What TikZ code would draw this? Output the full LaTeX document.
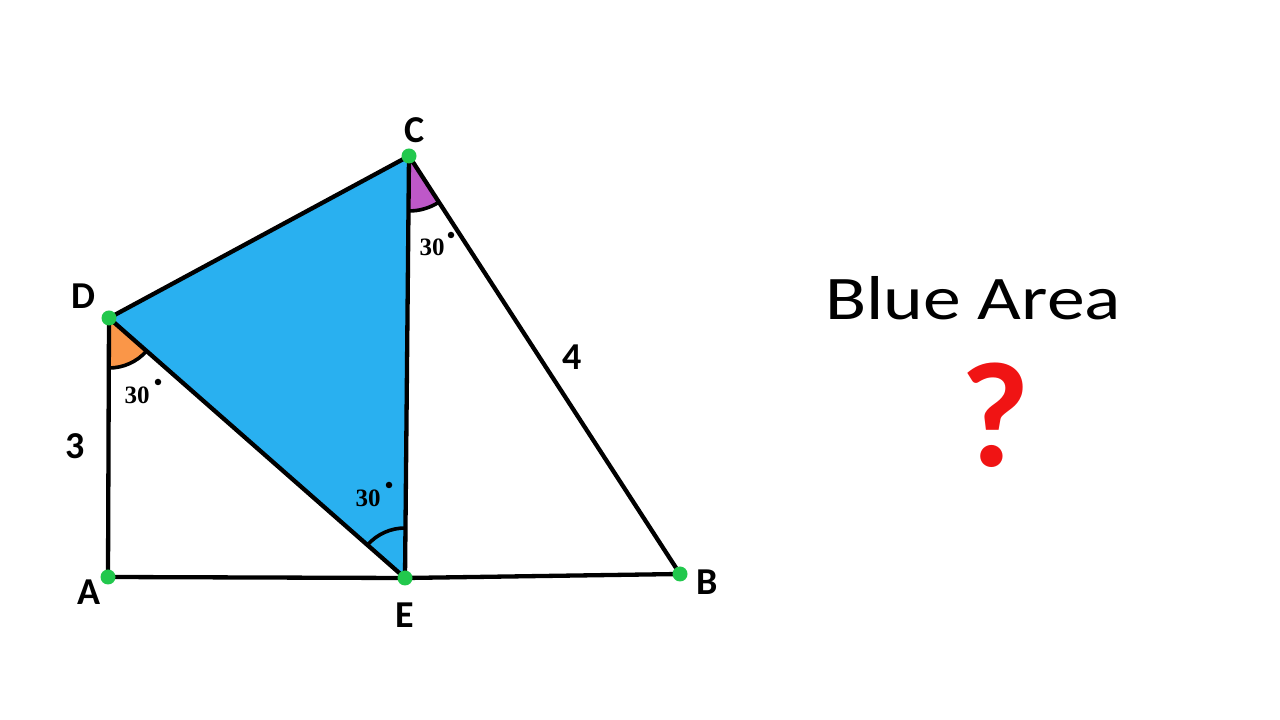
\documentclass[tikz,border=0pt]{standalone}
\usepackage{fontspec}
\setmainfont{Carlito}
\newfontfamily\numfont{Liberation Serif}
\definecolor{bluefill}{RGB}{41,176,240}
\definecolor{dotgreen}{RGB}{34,200,77}
\definecolor{angorange}{RGB}{250,150,72}
\definecolor{angpurple}{RGB}{190,88,200}
\definecolor{qred}{RGB}{240,20,20}
\tikzset{
  edge/.style={line width=4.3pt, line cap=round, line join=round},
  arcline/.style={line width=3.6pt},
  vdot/.style={circle, fill=dotgreen, inner sep=0pt, minimum size=15pt},
  vlabel/.style={font=\fontsize{38}{42}\selectfont\bfseries, inner sep=0pt},
  anglabel/.style={font=\numfont\fontsize{25}{27}\selectfont\bfseries, inner sep=0pt},
  degdot/.style={circle, fill=black, inner sep=0pt, minimum size=6.5pt}
}
\begin{document}
\begin{tikzpicture}[x=1pt,y=1pt]
\useasboundingbox (0,0) rectangle (1280,720);
\coordinate (A) at (108,143);
\coordinate (E) at (405,142);
\coordinate (B) at (680,146);
\coordinate (C) at (409,564);
\coordinate (D) at (109,402);
% blue triangle
\fill[bluefill] (D) -- (C) -- (E) -- cycle;
% angle sectors
\fill[angorange] (D) -- ++(-90.2:50) arc[start angle=-90.2, end angle=-41.3, radius=50] -- cycle;
\fill[angpurple] (C) -- ++(-90.5:55) arc[start angle=-90.5, end angle=-57, radius=55] -- cycle;
\draw[arcline] (D) ++(-90.2:50) arc[start angle=-90.2, end angle=-41.3, radius=50];
\draw[arcline] (C) ++(-90.5:55) arc[start angle=-90.5, end angle=-57, radius=55];
\draw[arcline] (E) ++(89.5:50) arc[start angle=89.5, end angle=138.7, radius=50];
% edges
\draw[edge] (A) -- (E) -- (B);
\draw[edge] (A) -- (D) -- (C) -- (E) -- (D);
\draw[edge] (C) -- (B);
% dots
\foreach \p in {A,B,C,D,E} \node[vdot] (dot\p) at (\p) {};
% vertex labels
\node[vlabel] (lC) at (415,590) {C};
\node[vlabel] (lD) at (83,424) {D};
\node[vlabel] (lA) at (89,128) {A};
\node[vlabel] (lE) at (405,105) {E};
\node[vlabel] (lB) at (707,138) {B};
\node[vlabel] (l3) at (75,274) {3};
\node[vlabel] (l4) at (572,363) {4};
% angle labels
\node[anglabel] (aD) at (137,325) {30};
\node[degdot] (dD) at (158,338) {};
\node[anglabel] (aC) at (432,473) {30};
\node[degdot] (dC) at (451,485) {};
\node[anglabel] (aE) at (368,222) {30};
\node[degdot] (dE) at (389,235) {};
% title
\node[font=\fontsize{62}{66}\selectfont, inner sep=0pt, xscale=1.22] (title) at (973,422) {Blue Area};
\node[font=\fontsize{150}{160}\selectfont\bfseries, text=qred, inner sep=0pt] (q) at (995,305) {?};
\end{tikzpicture}
\end{document}
